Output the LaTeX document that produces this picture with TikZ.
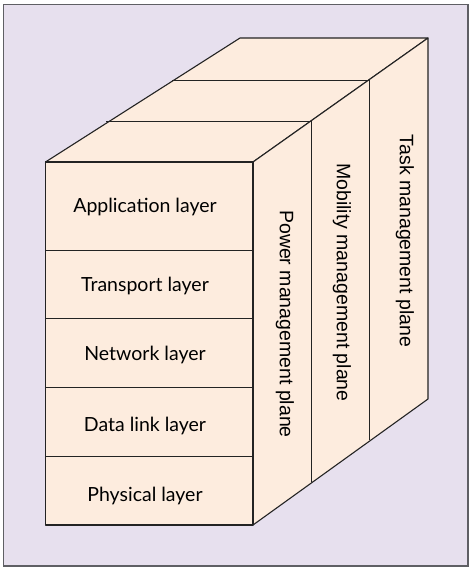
\documentclass[tikz,border=0pt]{standalone}
\usepackage{fontspec}
\setmainfont{Lato}
\newfontfamily\vfont{Liberation Sans}
\definecolor{bglav}{RGB}{231,224,238}
\definecolor{peach}{RGB}{253,236,222}
\definecolor{framegray}{RGB}{95,95,100}
\definecolor{edge}{RGB}{35,35,35}
\tikzset{
  face/.style={fill=peach, draw=edge, line width=1.1pt, line join=round},
  divline/.style={draw=edge, line width=1pt},
  layerlabel/.style={font=\fontsize{19.5}{22}\selectfont, text=black, inner sep=0pt},
  planelabel/.style={font=\vfont\fontsize{19.5}{22}\selectfont, text=black, rotate=-90, inner sep=0pt}
}
\begin{document}
\begin{tikzpicture}[x=1pt,y=-1pt]
\useasboundingbox (0,0) rectangle (474,570);
\fill[white] (0,0) rectangle (474,570);
\draw[fill=bglav, draw=framegray, line width=1.6pt] (3.5,4.5) rectangle (468,566);

% key points
\coordinate (FTL) at (45.5,162);
\coordinate (FTR) at (253,162);
\coordinate (FBL) at (45.5,525);
\coordinate (FBR) at (253,525);
\coordinate (BTL) at (240,38);
\coordinate (BTR) at (428,38);
\coordinate (BBR) at (428,399);
\coordinate (M1L) at (106,121.7);
\coordinate (M1R) at (311,121.7);
\coordinate (M1B) at (311,481.7);
\coordinate (M2L) at (172,80);
\coordinate (M2R) at (369.5,80);
\coordinate (M2B) at (369.5,440);

% faces
\path[face] (FTL) -- (BTL) -- (BTR) -- (FTR) -- cycle;
\path[face] (FTR) -- (BTR) -- (BBR) -- (FBR) -- cycle;
\path[face] (FTL) -- (FTR) -- (FBR) -- (FBL) -- cycle;

% plane divisions
\draw[divline] (M1L) -- (M1R) -- (M1B);
\draw[divline] (M2L) -- (M2R) -- (M2B);

% layer divisions
\draw[divline] (45.5,250) -- (253,250);
\draw[divline] (45.5,318) -- (253,318);
\draw[divline] (45.5,387) -- (253,387);
\draw[divline] (45.5,456) -- (253,456);

% layer labels
\node[layerlabel] (app) at (145,207) {Application layer};
\node[layerlabel] (tra) at (145,286) {Transport layer};
\node[layerlabel] (net) at (145,355) {Network layer};
\node[layerlabel] (dat) at (145,426) {Data link layer};
\node[layerlabel] (phy) at (145,496) {Physical layer};

% plane labels
\node[planelabel] (pow) at (285,324) {Power management plane};
\node[planelabel] (mob) at (342,282.5) {Mobility management plane};
\node[planelabel] (task) at (405,241) {Task management plane};
\end{tikzpicture}
\end{document}
